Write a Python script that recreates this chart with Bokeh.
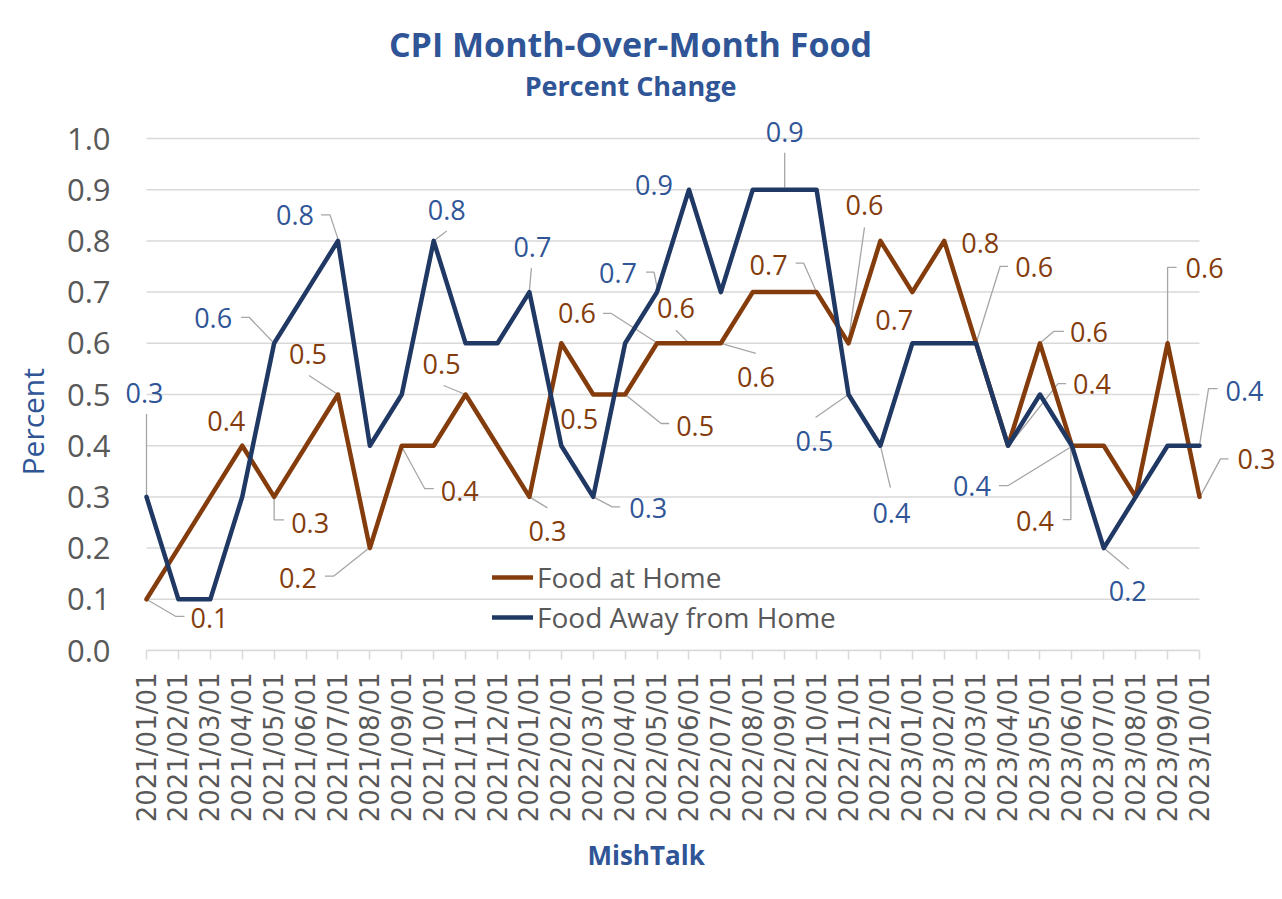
import math

from bokeh.core.properties import value
from bokeh.embed import file_html
from bokeh.models import (FixedTicker, Legend, LegendItem, NumeralTickFormatter,
                          Range1d, Title)
from bokeh.plotting import figure
from bokeh.resources import INLINE

# ---- data -------------------------------------------------------------
months = [
    "2021/01/01", "2021/02/01", "2021/03/01", "2021/04/01", "2021/05/01", "2021/06/01",
    "2021/07/01", "2021/08/01", "2021/09/01", "2021/10/01", "2021/11/01", "2021/12/01",
    "2022/01/01", "2022/02/01", "2022/03/01", "2022/04/01", "2022/05/01", "2022/06/01",
    "2022/07/01", "2022/08/01", "2022/09/01", "2022/10/01", "2022/11/01", "2022/12/01",
    "2023/01/01", "2023/02/01", "2023/03/01", "2023/04/01", "2023/05/01", "2023/06/01",
    "2023/07/01", "2023/08/01", "2023/09/01", "2023/10/01",
]
food_at_home = [
    0.1, 0.2, 0.3, 0.4, 0.3, 0.4, 0.5, 0.2, 0.4, 0.4, 0.5, 0.4,
    0.3, 0.6, 0.5, 0.5, 0.6, 0.6, 0.6, 0.7, 0.7, 0.7, 0.6, 0.8,
    0.7, 0.8, 0.6, 0.4, 0.6, 0.4, 0.4, 0.3, 0.6, 0.3,
]
food_away = [
    0.3, 0.1, 0.1, 0.3, 0.6, 0.7, 0.8, 0.4, 0.5, 0.8, 0.6, 0.6,
    0.7, 0.4, 0.3, 0.6, 0.7, 0.9, 0.7, 0.9, 0.9, 0.9, 0.5, 0.4,
    0.6, 0.6, 0.6, 0.4, 0.5, 0.4, 0.2, 0.3, 0.4, 0.4,
]
y_ticks = [0.0, 0.1, 0.2, 0.3, 0.4, 0.5, 0.6, 0.7, 0.8, 0.9, 1.0]

chart_title = "CPI Month-Over-Month Food"
chart_subtitle = "Percent Change"

series = {
    "home": dict(name="Food at Home", values=food_at_home,
                 line="#843C0C", label="#843C0C"),
    "away": dict(name="Food Away from Home", values=food_away,
                 line="#203864", label="#2F5597"),
}

# Data-label placement: (series, month index, label dx, label dy, leader elbows),
# all offsets in screen pixels from the data point (dy positive = downward).
label_layout = [
    ("away", 0, -2, -104, [(0, -83), (0, -2)]),
    ("home", 0, 63, 19, [(0, 0), (29, 17), (38, 17)]),
    ("home", 3, -16, -25, None),
    ("away", 4, -61, -25, [(-33, -26), (-25, -26), (-2, -2)]),
    ("home", 4, 36, 26, [(0, 0), (0, 23), (10, 23)]),
    ("home", 6, -30, -41, [(-29, -19), (0, 0)]),
    ("away", 6, -43, -26, [(-17, -26), (-8, -26), (0, -2)]),
    ("home", 7, -72, 30, [(-45, 28), (-36, 28), (-2, 1)]),
    ("home", 8, 58, 45, [(0, 1), (23, 43), (32, 43)]),
    ("away", 9, 13, -31, [(0, 0), (13, -10)]),
    ("home", 10, -24, -31, [(-22, -9), (0, 0)]),
    ("away", 12, 3, -45, [(2, -24), (0, -2)]),
    ("home", 12, 18, 34, [(0, 0), (18, 11)]),
    ("away", 14, 55, 11, [(0, 0), (19, 10), (27, 10)]),
    ("home", 14, -14, 24, None),
    ("home", 15, 70, 31, [(0, 0), (36, 29), (44, 29)]),
    ("home", 16, -80, -30, [(-54, -30), (-46, -30), (-1, -1)]),
    ("away", 16, -39, -19, [(-11, -20), (-3, -20), (1, 0)]),
    ("home", 17, -13, -35, [(-13, -13), (0, 0)]),
    ("home", 18, 35, 34, [(0, 0), (35, 10)]),
    ("away", 17, -35, -5, None),
    ("away", 20, 0, -58, [(0, -37), (0, -2)]),
    ("home", 21, -48, -27, [(-21, -29), (-13, -29), (-1, -2)]),
    ("home", 22, 16, -138, [(16, -116), (0, -3)]),
    ("away", 22, -34, 46, [(0, 0), (-33, 23)]),
    ("away", 23, 11, 67, [(0, 0), (10, 42)]),
    ("home", 24, -18, 28, None),
    ("home", 25, 36, 2, None),
    ("home", 26, 58, -76, [(0, 0), (24, -77), (32, -77)]),
    ("home", 27, 84, -62, [(1, 0), (50, -62), (58, -62)]),
    ("home", 28, 49, -11, [(1, -1), (14, -12), (24, -12)]),
    ("away", 29, -100, 40, [(-73, 40), (-64, 40), (1, 0)]),
    ("home", 29, -37, 75, [(-9, 74), (-1, 74), (-1, 0)]),
    ("away", 30, 24, 43, [(0, 0), (25, 21)]),
    ("home", 32, 37, -75, [(0, -1), (0, -76), (9, -76)]),
    ("away", 33, 45, -55, [(0, 0), (9, -57), (18, -57)]),
    ("home", 33, 57, -38, [(1, -1), (21, -38), (29, -38)]),
]

# ---- geometry ---------------------------------------------------------
W, H = 1282, 899
BORDER_L, BORDER_R, BORDER_T, BORDER_B = 118, 0, 0, 249
FIRST_PX, LAST_PX = 146, 1199          # screen x of first / last month
ZERO_PX = H - BORDER_B                 # screen y of 0.0
frame_w = W - BORDER_L - BORDER_R
frame_h = H - BORDER_T - BORDER_B
x_last = len(months) - 1
px_per_x = (LAST_PX - FIRST_PX) / x_last
px_per_y = 512.0                       # pixels per 1.0 percent
x_start = -(FIRST_PX - BORDER_L) / px_per_x
x_end = x_start + frame_w / px_per_x
y_top = frame_h / px_per_y


def sx_to_x(sx):
    return x_start + (sx - BORDER_L) / px_per_x


def sy_to_y(sy):
    return (ZERO_PX - sy) / px_per_y


TITLE_BLUE = "#2F5597"
TEXT_GREY = "#595959"
GRID = "#D9D9D9"
LEADER = "#A6A6A6"

p = figure(width=W, height=H, output_backend="svg", toolbar_location=None,
           title=None, x_range=Range1d(x_start, x_end), y_range=Range1d(0, y_top),
           min_border_left=BORDER_L, min_border_right=BORDER_R,
           min_border_top=BORDER_T, min_border_bottom=BORDER_B)
p.outline_line_color = None
p.background_fill_color = "white"

# heading (drawn in the headroom above the 1.0 gridline)
p.text(x=[sx_to_x(630)], y=[sy_to_y(43)], text=[chart_title], text_color=TITLE_BLUE,
       text_font=value("Open Sans"), text_font_style="bold", text_font_size="34px",
       text_align="center", text_baseline="middle")
p.text(x=[sx_to_x(630)], y=[sy_to_y(85)], text=[chart_subtitle], text_color=TITLE_BLUE,
       text_font=value("Open Sans"), text_font_style="bold", text_font_size="27px",
       text_align="center", text_baseline="middle")

# axes
xs = list(range(len(months)))
p.xaxis.ticker = FixedTicker(ticks=xs)
p.xaxis.bounds = (0, x_last)
p.xaxis.major_label_overrides = {i: m for i, m in enumerate(months)}
p.xaxis.major_label_orientation = math.pi / 2
p.xaxis.major_label_text_font = "DejaVu Sans"
p.xaxis.major_label_text_font_size = "26px"
p.xaxis.major_label_text_color = TEXT_GREY
p.xaxis.major_label_standoff = 13
p.xaxis.axis_line_color = GRID
p.xaxis.axis_line_width = 1.5
p.xaxis.major_tick_line_color = GRID
p.xaxis.major_tick_line_width = 1.5
p.xaxis.major_tick_in = 0
p.xaxis.major_tick_out = 9
p.xaxis.minor_tick_line_color = None
p.add_layout(Title(text="MishTalk", text_font="Open Sans", text_font_style="bold",
                   text_font_size="26px", text_color=TITLE_BLUE, align="left",
                   offset=469, standoff=18), "below")

p.yaxis.ticker = FixedTicker(ticks=y_ticks)
p.yaxis.formatter = NumeralTickFormatter(format="0.0")
p.yaxis.major_label_text_font = "Open Sans"
p.yaxis.major_label_text_font_size = "31px"
p.yaxis.major_label_text_color = TEXT_GREY
p.yaxis.major_label_standoff = FIRST_PX - BORDER_L - 20
p.yaxis.axis_line_color = None
p.yaxis.major_tick_line_color = None
p.yaxis.minor_tick_line_color = None
p.yaxis.major_tick_out = 0
p.add_layout(Title(text="Percent", text_font="Open Sans", text_font_style="normal",
                   text_font_size="30px", text_color=TITLE_BLUE, align="left",
                   offset=175, standoff=18, vertical_align="top"), "left")

# horizontal gridlines spanning the months only
p.xgrid.grid_line_color = None
p.ygrid.grid_line_color = None
p.segment(x0=[0] * len(y_ticks), x1=[x_last] * len(y_ticks), y0=y_ticks, y1=y_ticks,
          line_color=GRID, line_width=1.5)

# leader lines
lead_xs, lead_ys = [], []
for key, i, dx, dy, elbows in label_layout:
    if not elbows:
        continue
    v = series[key]["values"][i]
    lead_xs.append([i + ex / px_per_x for ex, ey in elbows])
    lead_ys.append([v - ey / px_per_y for ex, ey in elbows])
p.multi_line(lead_xs, lead_ys, line_color=LEADER, line_width=1.3)

# series lines (home first so that away sits on top)
renderers = {}
for key in ("home", "away"):
    s = series[key]
    renderers[key] = p.line(xs, s["values"], line_color=s["line"], line_width=4.5,
                            line_join="round", line_cap="round")

# data labels
lx, ly, lt, lc = [], [], [], []
for key, i, dx, dy, elbows in label_layout:
    v = series[key]["values"][i]
    lx.append(i + dx / px_per_x)
    ly.append(v - dy / px_per_y)
    lt.append(f"{v:.1f}")
    lc.append(series[key]["label"])
p.text(x=lx, y=ly, text=lt, text_color=lc, text_font=value("Open Sans"),
       text_font_size="27px", text_align="center", text_baseline="middle")

legend = Legend(items=[
    LegendItem(label=series["home"]["name"], renderers=[renderers["home"]]),
    LegendItem(label=series["away"]["name"], renderers=[renderers["away"]]),
], location=(492 - BORDER_L, 13), orientation="vertical", background_fill_alpha=0,
    border_line_alpha=0, label_text_font="Open Sans", label_text_font_size="28px",
    label_text_color=TEXT_GREY, glyph_width=41, glyph_height=40, label_height=40,
    spacing=0, padding=0, margin=0, label_standoff=4)
p.add_layout(legend)

open("out.html", "w").write(file_html(p, INLINE))
